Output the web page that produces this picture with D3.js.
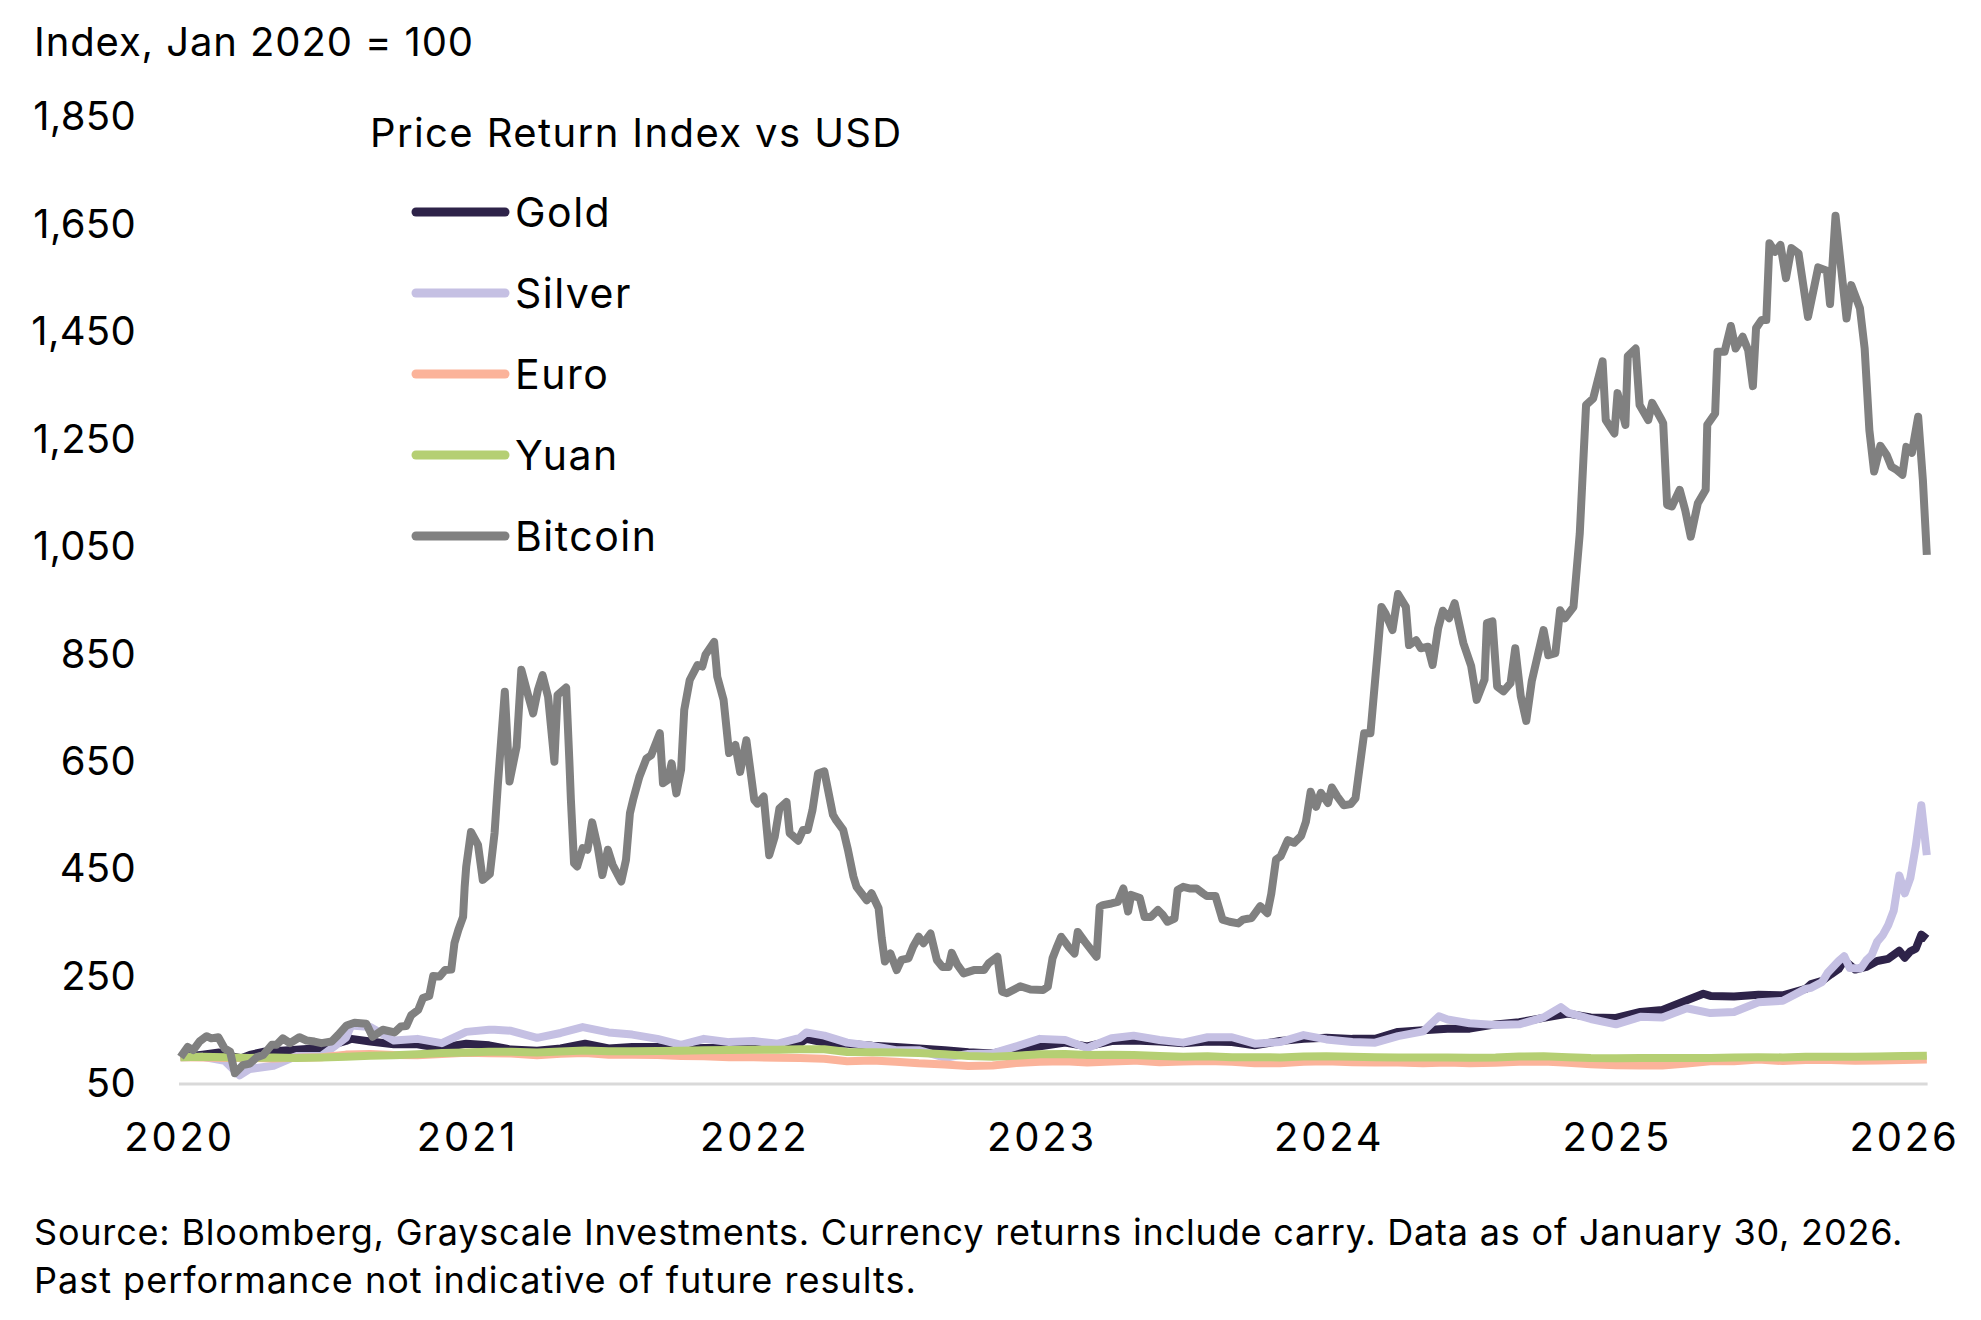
<!DOCTYPE html>
<html>
<head>
<meta charset="utf-8">
<script src="https://cdn.jsdelivr.net/npm/d3@7"></script>
<style>
  html, body { margin: 0; padding: 0; background: #ffffff; }
  svg text { font-family: Inter, "Noto Sans", "DejaVu Sans", sans-serif; fill: #000000; }
</style>
</head>
<body>
<svg id="chart" width="1981" height="1320"></svg>
<script>
// ---------------- DATA ----------------
const yTickValues = [50, 250, 450, 650, 850, 1050, 1250, 1450, 1650, 1850];
const xTickYears = ["2020", "2021", "2022", "2023", "2024", "2025", "2026"];
const seriesNames = ["Gold", "Silver", "Euro", "Yuan", "Bitcoin"];
const seriesColors = ["#2e2349", "#c5c0e3", "#fbb39a", "#b5cf73", "#808080"];

const gold = [
  ["2020-01-03",100],["2020-01-31",104.5],["2020-02-21",108.5],["2020-02-28",104],["2020-03-20",98],["2020-03-31",104],
  ["2020-04-17",110],["2020-04-30",111],["2020-05-29",114],["2020-06-30",117],["2020-07-31",130],["2020-08-07",134],
  ["2020-08-31",129],["2020-09-30",124],["2020-10-30",124],["2020-11-27",117],["2020-12-31",125],["2021-01-29",122],
  ["2021-02-26",114],["2021-03-31",112],["2021-04-30",116],["2021-05-31",125],["2021-06-30",116],["2021-07-30",119],
  ["2021-08-31",119],["2021-09-30",115],["2021-10-29",117],["2021-11-30",117],["2021-12-31",120],["2022-01-31",118],
  ["2022-02-28",126],["2022-03-08",134],["2022-03-31",127],["2022-04-29",125],["2022-05-31",121],["2022-06-30",119],
  ["2022-07-29",116],["2022-08-31",113],["2022-09-30",109],["2022-10-31",107],["2022-11-30",116],["2022-12-30",120],
  ["2023-01-31",127],["2023-02-28",120],["2023-03-31",130],["2023-04-28",131],["2023-05-31",129],["2023-06-30",126],
  ["2023-07-31",129],["2023-08-31",128],["2023-09-29",122],["2023-10-31",130],["2023-11-30",134],["2023-12-29",136],
  ["2024-01-31",134],["2024-02-29",134],["2024-03-29",147],["2024-04-30",150],["2024-05-31",153],["2024-06-28",153],
  ["2024-07-31",161],["2024-08-30",165],["2024-09-30",173],["2024-10-31",181],["2024-11-29",174],["2024-12-31",173],
  ["2025-01-31",184],["2025-02-28",188],["2025-03-31",206],["2025-04-21",218],["2025-04-30",214],["2025-05-30",213],
  ["2025-06-30",216],["2025-07-31",215],["2025-08-29",227],["2025-09-05",236],["2025-09-19",242],["2025-09-30",254],
  ["2025-10-10",264],["2025-10-17",280],["2025-10-31",263],["2025-11-14",268],["2025-11-28",279],["2025-12-12",283],
  ["2025-12-26",298],["2026-01-02",285],["2026-01-09",297],["2026-01-16",302],["2026-01-23",328],["2026-01-30",320]
];

const silver = [
  ["2020-01-03",100],["2020-01-31",100.5],["2020-02-28",93],["2020-03-18",66],["2020-03-31",78],["2020-04-30",84],
  ["2020-05-29",102],["2020-06-30",102],["2020-07-31",136],["2020-08-07",159],["2020-08-31",156],["2020-09-30",131],
  ["2020-10-30",134],["2020-11-30",126],["2020-12-31",147],["2021-01-29",151],["2021-02-05",151],["2021-02-26",149],
  ["2021-03-31",136],["2021-04-30",145],["2021-05-28",156],["2021-06-30",146],["2021-07-30",142],["2021-08-31",134],
  ["2021-09-30",123],["2021-10-29",134],["2021-11-30",128],["2021-12-31",130],["2022-01-31",125],["2022-02-28",136],
  ["2022-03-08",146],["2022-03-31",140],["2022-04-29",127],["2022-05-31",121],["2022-06-30",113],["2022-07-29",113],
  ["2022-08-31",99],["2022-09-30",106],["2022-10-31",107],["2022-11-30",120],["2022-12-30",134],["2023-01-31",132],
  ["2023-02-28",117],["2023-03-31",135],["2023-04-28",140],["2023-05-31",132],["2023-06-30",127],["2023-07-31",137],
  ["2023-08-31",137],["2023-09-29",125],["2023-10-31",128],["2023-11-30",141],["2023-12-29",133],["2024-01-31",128],
  ["2024-02-29",127],["2024-03-29",139],["2024-04-30",148],["2024-05-20",176],["2024-05-31",170],["2024-06-28",163],
  ["2024-07-31",160],["2024-08-30",161],["2024-09-30",174],["2024-10-22",193],["2024-10-31",183],["2024-11-29",171],
  ["2024-12-31",161],["2025-01-31",175],["2025-02-28",174],["2025-03-31",191],["2025-04-30",182],["2025-05-30",184],
  ["2025-06-30",202],["2025-07-31",205],["2025-08-29",227],["2025-09-05",229],["2025-09-19",240],["2025-09-26",257],
  ["2025-10-10",279],["2025-10-17",288],["2025-10-24",266],["2025-11-07",265],["2025-11-14",280],["2025-11-21",290],
  ["2025-11-28",315],["2025-12-05",327],["2025-12-12",346],["2025-12-19",373],["2025-12-26",438],["2026-01-02",405],
  ["2026-01-09",433],["2026-01-16",493],["2026-01-23",569],["2026-01-30",476]
];

// Currencies: Jan 3 2020, then month-ends Jan 2020 .. Dec 2025, then Jan 30 2026
const fxDates = ["2020-01-03",
  "2020-01-31","2020-02-28","2020-03-31","2020-04-30","2020-05-29","2020-06-30","2020-07-31","2020-08-31","2020-09-30","2020-10-30","2020-11-30","2020-12-31",
  "2021-01-29","2021-02-26","2021-03-31","2021-04-30","2021-05-31","2021-06-30","2021-07-30","2021-08-31","2021-09-30","2021-10-29","2021-11-30","2021-12-31",
  "2022-01-31","2022-02-28","2022-03-31","2022-04-29","2022-05-31","2022-06-30","2022-07-29","2022-08-31","2022-09-30","2022-10-31","2022-11-30","2022-12-30",
  "2023-01-31","2023-02-28","2023-03-31","2023-04-28","2023-05-31","2023-06-30","2023-07-31","2023-08-31","2023-09-29","2023-10-31","2023-11-30","2023-12-29",
  "2024-01-31","2024-02-29","2024-03-29","2024-04-30","2024-05-31","2024-06-28","2024-07-31","2024-08-30","2024-09-30","2024-10-31","2024-11-29","2024-12-31",
  "2025-01-31","2025-02-28","2025-03-31","2025-04-30","2025-05-30","2025-06-30","2025-07-31","2025-08-29","2025-09-30","2025-10-31","2025-11-28","2025-12-31",
  "2026-01-30"];

const euroValues = [100,
  99.2,98.5,98.4,97.6,98.9,99.9,104.7,106,104,103.3,105.6,108.1,
  107.2,106.7,103.5,106.1,107.9,104.6,104.6,104.0,101.9,101.7,99.7,100.0,
  98.7,98.4,97.0,92.3,93.9,91.5,88.5,86.5,83.5,84.5,89.0,91.5,
  92.5,90,92,93.5,90.5,92,92.8,91.2,88.8,88.8,91.3,92.5,
  90.5,90.2,89.8,88.6,90,88.7,89.5,91.2,91.7,89.4,86.8,84.8,
  84.5,84.5,88.2,92.2,92.3,95.6,92.6,94.8,94.9,93.1,93.6,94.7,
  95.5];

const yuanValues = [100,
  100.6,99.9,98.6,99.2,98.2,99.3,100.7,102.7,103.6,105.5,107.5,108.5,
  110.1,110.0,108.6,110.4,112.2,110.8,111.0,111.3,111.7,112.8,113.5,113.8,
  113.9,114.9,114.5,109.7,109.0,108.6,107.9,105.5,102.2,100.5,102.6,105.4,
  106,104,104.5,104,102,100.5,101.5,100,100,99.5,101,101.5,
  100.5,100,99.5,99.5,99.5,99,99.5,101,101.5,100,98.5,98,
  98.5,98.5,98.5,98.5,99.5,100,99.5,100.5,100.5,100.5,101,102,
  102.5];

const bitcoin = [
  ["2020-01-03",100],["2020-01-12",119],["2020-01-19",113],["2020-01-27",129],["2020-02-05",139],["2020-02-11",135],
  ["2020-02-20",137],["2020-02-28",116],["2020-03-06",110],["2020-03-12",70],["2020-03-22",85],["2020-03-31",88],
  ["2020-04-09",100],["2020-04-17",104],["2020-04-28",123],["2020-05-04",123],["2020-05-12",135],["2020-05-21",126],
  ["2020-06-02",137],["2020-06-11",131],["2020-06-21",129],["2020-06-30",126],["2020-07-13",129],["2020-07-21",141],
  ["2020-08-01",159],["2020-08-11",164],["2020-08-26",162],["2020-09-03",138],["2020-09-16",151],["2020-10-01",146],
  ["2020-10-09",157],["2020-10-16",158],["2020-10-22",178],["2020-10-31",188],["2020-11-06",210],["2020-11-14",214],
  ["2020-11-19",251],["2020-11-27",250],["2020-12-04",262],["2020-12-12",263],["2020-12-16",312],["2020-12-21",337],
  ["2020-12-27",361],["2020-12-29",417],["2020-12-31",455],["2021-01-06",519],["2021-01-15",495],["2021-01-21",430],
  ["2021-01-30",441],["2021-02-05",517],["2021-02-09",604],["2021-02-18",780],["2021-02-24",613],["2021-03-05",678],
  ["2021-03-11",821],["2021-03-19",777],["2021-03-26",740],["2021-04-01",783],["2021-04-07",811],["2021-04-14",771],
  ["2021-04-22",650],["2021-04-26",774],["2021-05-07",788],["2021-05-11",653],["2021-05-13",579],["2021-05-17",461],
  ["2021-05-21",455],["2021-05-28",489],["2021-06-03",486],["2021-06-09",537],["2021-06-16",492],["2021-06-22",439],
  ["2021-06-29",486],["2021-07-05",458],["2021-07-16",427],["2021-07-22",467],["2021-07-27",554],["2021-07-31",579],
  ["2021-08-08",622],["2021-08-17",656],["2021-08-23",662],["2021-09-03",703],["2021-09-07",610],["2021-09-13",616],
  ["2021-09-18",647],["2021-09-24",591],["2021-09-30",635],["2021-10-04",746],["2021-10-11",802],["2021-10-21",830],
  ["2021-10-27",827],["2021-10-31",849],["2021-11-11",873],["2021-11-15",808],["2021-11-23",765],["2021-11-30",666],
  ["2021-12-08",681],["2021-12-14",631],["2021-12-22",690],["2022-01-01",579],["2022-01-05",572],["2022-01-13",585],
  ["2022-01-20",476],["2022-01-27",510],["2022-02-02",563],["2022-02-11",575],["2022-02-15",517],["2022-02-26",503],
  ["2022-03-04",523],["2022-03-10",523],["2022-03-16",560],["2022-03-23",628],["2022-03-31",632],["2022-04-11",551],
  ["2022-04-15",541],["2022-04-24",523],["2022-04-30",486],["2022-05-07",436],["2022-05-11",417],["2022-05-24",392],
  ["2022-05-30",405],["2022-06-08",377],["2022-06-12",321],["2022-06-16",278],["2022-06-23",293],["2022-07-01",262],
  ["2022-07-07",281],["2022-07-16",284],["2022-07-22",306],["2022-07-29",324],["2022-08-04",312],["2022-08-13",330],
  ["2022-08-21",281],["2022-08-28",268],["2022-09-05",268],["2022-09-09",294],["2022-09-16",272],["2022-09-24",256],
  ["2022-10-07",262],["2022-10-20",262],["2022-10-26",275],["2022-11-06",287],["2022-11-12",222],["2022-11-18",219],
  ["2022-12-05",232],["2022-12-18",226],["2023-01-03",225],["2023-01-09",231],["2023-01-15",284],["2023-01-20",303],
  ["2023-01-26",324],["2023-02-04",306],["2023-02-12",293],["2023-02-16",333],["2023-02-25",315],["2023-03-12",287],
  ["2023-03-16",380],["2023-03-20",383],["2023-03-31",386],["2023-04-08",389],["2023-04-15",414],["2023-04-21",371],
  ["2023-04-25",402],["2023-05-06",396],["2023-05-12",361],["2023-05-20",361],["2023-05-29",374],["2023-06-04",365],
  ["2023-06-10",352],["2023-06-19",358],["2023-06-23",411],["2023-06-30",417],["2023-07-08",414],["2023-07-17",414],
  ["2023-07-25",405],["2023-07-30",400],["2023-08-10",400],["2023-08-19",356],["2023-08-28",352],["2023-09-08",349],
  ["2023-09-14",356],["2023-09-25",359],["2023-10-06",381],["2023-10-15",368],["2023-10-20",404],["2023-10-26",468],
  ["2023-11-01",474],["2023-11-10",504],["2023-11-18",499],["2023-11-27",512],["2023-12-03",538],["2023-12-09",594],
  ["2023-12-16",566],["2023-12-22",592],["2023-12-31",573],["2024-01-05",602],["2024-01-12",585],["2024-01-20",569],
  ["2024-01-29",571],["2024-02-04",582],["2024-02-15",703],["2024-02-23",703],["2024-03-03",852],["2024-03-08",938],
  ["2024-03-13",926],["2024-03-22",895],["2024-03-29",962],["2024-04-08",938],["2024-04-12",867],["2024-04-21",876],
  ["2024-04-27",861],["2024-05-06",864],["2024-05-12",830],["2024-05-19",898],["2024-05-25",931],["2024-06-02",917],
  ["2024-06-09",945],["2024-06-20",871],["2024-06-30",828],["2024-07-07",765],["2024-07-17",803],["2024-07-20",908],
  ["2024-07-27",911],["2024-08-02",790],["2024-08-10",781],["2024-08-19",796],["2024-08-25",861],["2024-09-01",772],
  ["2024-09-08",726],["2024-09-15",800],["2024-09-30",895],["2024-10-06",848],["2024-10-15",852],["2024-10-21",932],
  ["2024-10-27",917],["2024-11-07",938],["2024-11-15",1075],["2024-11-23",1314],["2024-12-02",1326],["2024-12-14",1395],
  ["2024-12-18",1286],["2024-12-29",1261],["2025-01-02",1336],["2025-01-12",1277],["2025-01-15",1405],["2025-01-25",1419],
  ["2025-01-30",1314],["2025-02-10",1286],["2025-02-15",1318],["2025-02-27",1286],["2025-03-01",1280],["2025-03-06",1128],
  ["2025-03-12",1125],["2025-03-22",1156],["2025-03-29",1118],["2025-04-05",1069],["2025-04-14",1131],["2025-04-24",1156],
  ["2025-04-26",1277],["2025-05-06",1298],["2025-05-09",1413],["2025-05-18",1413],["2025-05-26",1461],["2025-06-01",1419],
  ["2025-06-10",1441],["2025-06-17",1416],["2025-06-23",1349],["2025-06-27",1457],["2025-07-04",1472],["2025-07-10",1472],
  ["2025-07-14",1615],["2025-07-21",1599],["2025-07-28",1612],["2025-08-04",1550],["2025-08-11",1606],["2025-08-20",1596],
  ["2025-09-01",1478],["2025-09-14",1570],["2025-09-25",1564],["2025-09-29",1502],["2025-10-06",1666],["2025-10-20",1475],
  ["2025-10-26",1537],["2025-11-06",1494],["2025-11-12",1419],["2025-11-18",1267],["2025-11-24",1190],["2025-12-02",1238],
  ["2025-12-10",1221],["2025-12-16",1199],["2025-12-22",1194],["2025-12-30",1184],["2026-01-04",1236],["2026-01-11",1225],
  ["2026-01-19",1292],["2026-01-25",1174],["2026-01-30",1035]
];

const titleText = "Index, Jan 2020 = 100";
const legendTitle = "Price Return Index vs USD";
const footnoteLines = [
  "Source: Bloomberg, Grayscale Investments. Currency returns include carry. Data as of January 30, 2026.",
  "Past performance not indicative of future results."
];

// ---------------- CHART ----------------
const parse = d3.utcParse("%Y-%m-%d");
const toPoints = pairs => pairs.map(([d, v]) => ({ date: parse(d), value: v }));
const zipPoints = (dates, vals) => dates.map((d, i) => ({ date: parse(d), value: vals[i] }));

const seriesData = [
  toPoints(gold),
  toPoints(silver),
  zipPoints(fxDates, euroValues),
  zipPoints(fxDates, yuanValues),
  toPoints(bitcoin)
];

const svg = d3.select("#chart");
const FONT = "Inter, 'Noto Sans', sans-serif";

const x = d3.scaleUtc()
  .domain([parse("2020-01-01"), parse("2026-01-01")])
  .range([179, 1904]);
const y = d3.scaleLinear()
  .domain([50, 1850])
  .range([1084, 117]);

// baseline (x axis line)
svg.append("line")
  .attr("x1", x(parse("2020-01-01"))).attr("x2", x(parse("2026-01-31")))
  .attr("y1", y(50)).attr("y2", y(50))
  .attr("stroke", "#d9d9d9").attr("stroke-width", 3);

// x axis labels
const xAxis = d3.axisBottom(x)
  .tickValues(xTickYears.map(yr => parse(yr + "-01-01")))
  .tickFormat(d3.utcFormat("%Y"))
  .tickSize(0)
  .tickPadding(39);
const gx = svg.append("g").attr("transform", `translate(0,${y(50)})`).call(xAxis);
gx.select(".domain").remove();
gx.selectAll("text")
  .attr("font-size", 40).attr("font-family", FONT).attr("fill", "#000")
  .attr("letter-spacing", 2.8);

// y axis labels
const yAxis = d3.axisLeft(y)
  .tickValues(yTickValues)
  .tickFormat(d3.format(","))
  .tickSize(0)
  .tickPadding(43);
const gy = svg.append("g").attr("transform", `translate(179,0)`).call(yAxis);
gy.select(".domain").remove();
gy.selectAll("text")
  .attr("font-size", 40).attr("font-family", FONT).attr("fill", "#000")
  .attr("letter-spacing", 0.3);

// lines
const line = d3.line()
  .x(d => x(d.date))
  .y(d => y(d.value));

seriesData.forEach((data, i) => {
  svg.append("path")
    .datum(data)
    .attr("d", line)
    .attr("fill", "none")
    .attr("stroke", seriesColors[i])
    .attr("stroke-width", 8)
    .attr("stroke-linejoin", "round")
    .attr("stroke-linecap", "butt");
});

// title
svg.append("text")
  .attr("x", 34).attr("y", 56)
  .attr("font-size", 40)
  .attr("letter-spacing", 0.9)
  .text(titleText);

// legend
svg.append("text")
  .attr("x", 370).attr("y", 147)
  .attr("font-size", 40)
  .attr("letter-spacing", 1.4)
  .text(legendTitle);

const legend = svg.append("g");
seriesNames.forEach((name, i) => {
  const cy = 212 + i * 81;
  legend.append("line")
    .attr("x1", 416).attr("x2", 505)
    .attr("y1", cy).attr("y2", cy)
    .attr("stroke", seriesColors[i])
    .attr("stroke-width", 9)
    .attr("stroke-linecap", "round");
  legend.append("text")
    .attr("x", 515).attr("y", cy)
    .attr("dy", "0.36em")
    .attr("font-size", 41)
    .attr("letter-spacing", 1.5)
    .text(name);
});

// footnote
footnoteLines.forEach((t, i) => {
  svg.append("text")
    .attr("x", 34).attr("y", 1245 + i * 48)
    .attr("font-size", 36)
    .attr("letter-spacing", i === 0 ? 0.8 : 1.0)
    .text(t);
});
</script>
</body>
</html>
